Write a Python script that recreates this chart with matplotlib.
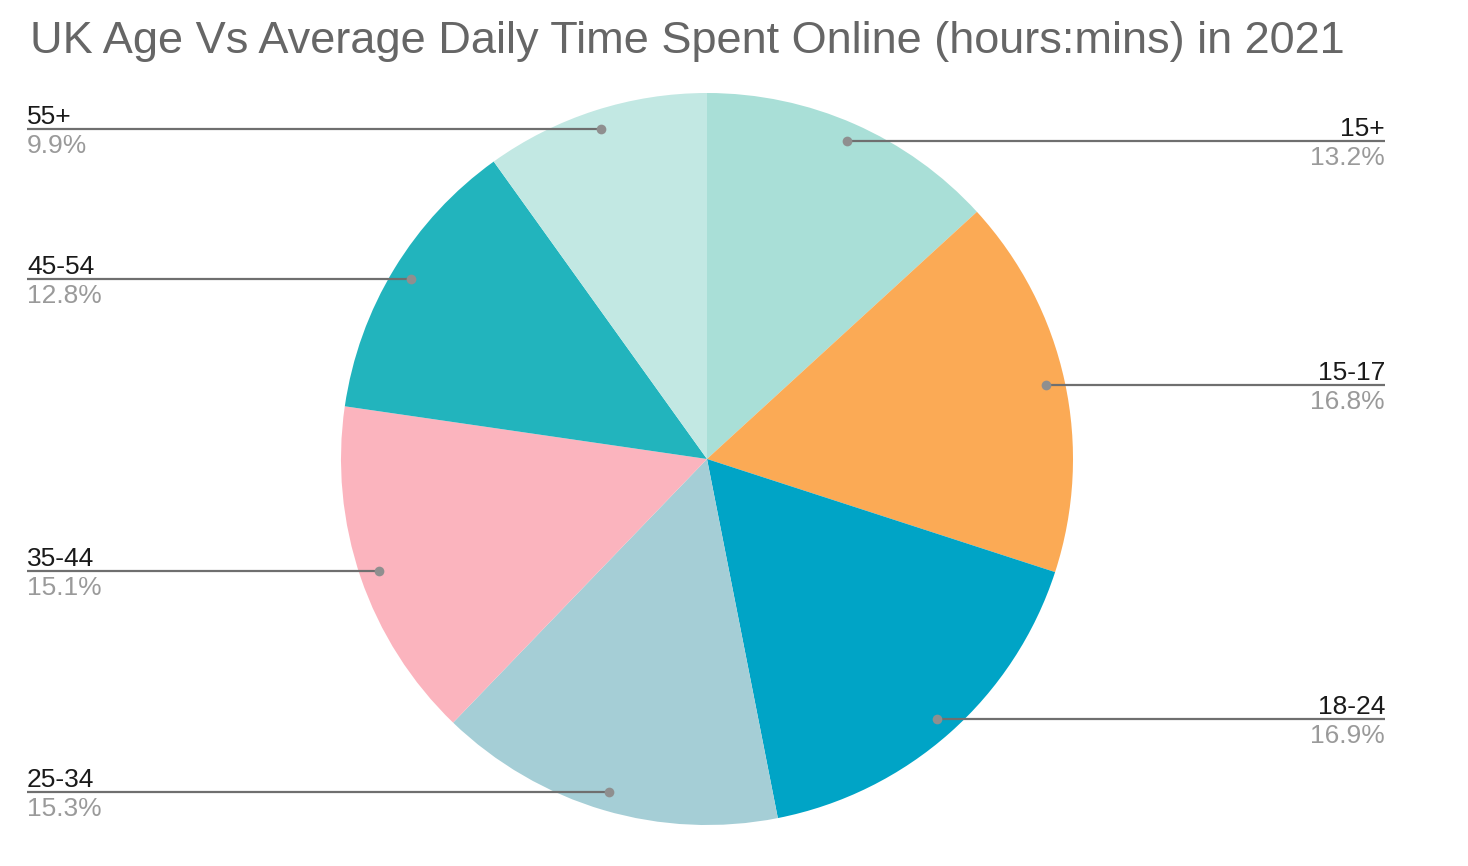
import numpy as np
import matplotlib
matplotlib.use("Agg")
import matplotlib.pyplot as plt

categories = ["15+", "15-17", "18-24", "25-34", "35-44", "45-54", "55+"]
shares = [13.2, 16.8, 16.9, 15.3, 15.1, 12.8, 9.9]
colors = ["#a9dfd7", "#fbaa55", "#00a4c6", "#a5ced6", "#fbb4be", "#22b4bd", "#c2e8e3"]
title = "UK Age Vs Average Daily Time Spent Online (hours:mins) in 2021"

W, H = 1468, 866
plt.rcParams['font.family'] = ['Liberation Sans', 'DejaVu Sans']
fig = plt.figure(figsize=(W / 100, H / 100), dpi=100)
ax = fig.add_axes([0, 0, 1, 1])

cx, cy, R = 707, H - 459, 366
wedges, _ = ax.pie(shares, colors=colors, startangle=90, counterclock=False,
                   center=(cx, cy), radius=R, frame=True,
                   wedgeprops=dict(linewidth=0))
ax.set_xlim(0, W)
ax.set_ylim(0, H)
ax.set_aspect('equal')
ax.axis('off')

left_x, right_x = 27, 1385
for w, name, val in zip(wedges, categories, shares):
    mid = np.deg2rad((w.theta1 + w.theta2) / 2)
    px = cx + 0.948 * R * np.cos(mid)
    py = cy + 0.948 * R * np.sin(mid)
    if px >= cx:
        ex, ha = right_x, 'right'
    else:
        ex, ha = left_x, 'left'
    ax.plot([px, ex], [py, py], color='#6f6f6f', lw=1.6, solid_capstyle='butt', zorder=3)
    ax.plot([px], [py], 'o', color='#8f8f8f', ms=7, mec='none', zorder=4)
    ax.text(ex, py + 5, name, ha=ha, va='baseline', fontsize=19, color='#1a1a1a')
    ax.text(ex, py - 5, f"{val}%", ha=ha, va='top', fontsize=19, color='#9a9a9a')

fig.text(30 / W, 1 - 41 / H, title, ha='left', va='center', fontsize=32.5, color='#666666')

fig.savefig("out.png", dpi=100)
